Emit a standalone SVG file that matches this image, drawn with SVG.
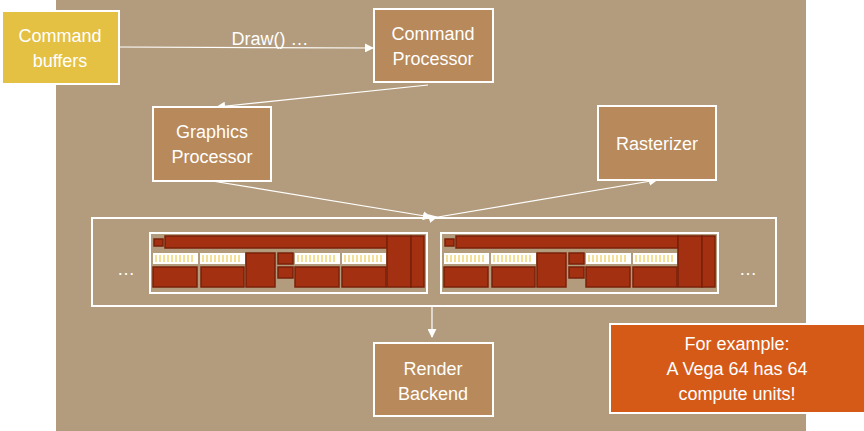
<svg xmlns="http://www.w3.org/2000/svg" width="864" height="431" viewBox="0 0 864 431">
<defs>
<style>
.n{fill:#B8895A;stroke:#fff;stroke-width:2}
.t{font-family:"Liberation Sans",Arial,sans-serif;font-size:18px;fill:#fff;text-anchor:middle}
.c{stroke:#fff;stroke-width:1.2;fill:none;marker-end:url(#a)}
.r{fill:#A33010;stroke:#7A2008;stroke-width:1.5}
.w{fill:#fff}
.y{stroke:#E8C030;stroke-width:1}
</style>
<marker id="a" viewBox="0 0 10 10" refX="9" refY="5" markerWidth="9" markerHeight="9" markerUnits="userSpaceOnUse" orient="auto"><path d="M0,0L10,5L0,10z" fill="#fff"/></marker>
<g id="cu">
<rect x="150" y="233" width="277" height="60" fill="none" stroke="#fff" stroke-width="2"/>
<rect class="r" x="154" y="239" width="9" height="7"/>
<rect class="r" x="165" y="236" width="222" height="12"/>
<rect class="r" x="387" y="236" width="24" height="51"/>
<rect class="r" x="411" y="236" width="13" height="51"/>
<rect class="w" x="153" y="253" width="45" height="11"/>
<rect class="w" x="200" y="253" width="45" height="11"/>
<rect class="w" x="295" y="253" width="45" height="11"/>
<rect class="w" x="342" y="253" width="44" height="11"/>
<path class="y" d="M156,255v7M160,255v7M164,255v7M168,255v7M172,255v7M176,255v7M180,255v7M184,255v7M188,255v7M192,255v7M203,255v7M207,255v7M211,255v7M215,255v7M219,255v7M223,255v7M227,255v7M231,255v7M235,255v7M239,255v7M298,255v7M302,255v7M306,255v7M310,255v7M314,255v7M318,255v7M322,255v7M326,255v7M330,255v7M334,255v7M345,255v7M349,255v7M353,255v7M357,255v7M361,255v7M365,255v7M369,255v7M373,255v7M377,255v7M381,255v7"/>
<rect class="r" x="153" y="267" width="44" height="20"/>
<rect class="r" x="201" y="267" width="43" height="20"/>
<rect class="r" x="246" y="253" width="29" height="34"/>
<rect class="r" x="278" y="253" width="15" height="11"/>
<rect class="r" x="278" y="267" width="15" height="11"/>
<rect class="r" x="295" y="267" width="44" height="20"/>
<rect class="r" x="342" y="267" width="44" height="20"/>
</g>
</defs>
<rect x="56" y="0" width="750" height="431" fill="#B39C7D"/>
<g id="connectors">
<line class="c" x1="119" y1="47" x2="373" y2="48"/>
<line class="c" x1="428" y1="85" x2="217" y2="107"/>
<line class="c" x1="212" y1="181" x2="431" y2="217"/>
<line class="c" x1="432" y1="218" x2="657" y2="180"/>
<line class="c" x1="432" y1="218" x2="437" y2="217"/>
<line class="c" x1="432" y1="306" x2="432" y2="337"/>
<text x="270" y="45" class="t" font-size="19">Draw() …</text>
</g>
<g id="buffers"><rect x="2" y="11" width="117" height="73" fill="#E4C143" stroke="#fff" stroke-width="2"/><text class="t" x="60" y="42">Command</text><text class="t" x="60" y="67">buffers</text></g>
<g id="cmdproc"><rect class="n" x="374" y="9" width="119" height="73"/><text class="t" x="433" y="40">Command</text><text class="t" x="433" y="65">Processor</text></g>
<g id="gfxproc"><rect class="n" x="153" y="107" width="118" height="74"/><text class="t" x="212" y="138">Graphics</text><text class="t" x="212" y="163">Processor</text></g>
<g id="raster"><rect class="n" x="598" y="106" width="118" height="74"/><text class="t" x="657" y="150">Rasterizer</text></g>
<g id="cus">
<rect x="92" y="218" width="684" height="88" fill="none" stroke="#fff" stroke-width="2"/>
<use href="#cu"/>
<use href="#cu" transform="translate(291,0)"/>
<text class="t" x="126" y="275">…</text>
<text class="t" x="748" y="275">…</text>
</g>
<g id="backend"><rect class="n" x="374" y="343" width="119" height="73"/><text class="t" x="433" y="375">Render</text><text class="t" x="433" y="400">Backend</text></g>
<g id="note"><rect x="610" y="324" width="256" height="89" fill="#D55A18" stroke="#fff" stroke-width="2"/><text class="t" x="737" y="350">For example:</text><text class="t" x="737" y="375">A Vega 64 has 64</text><text class="t" x="737" y="400">compute  units!</text></g>
</svg>
